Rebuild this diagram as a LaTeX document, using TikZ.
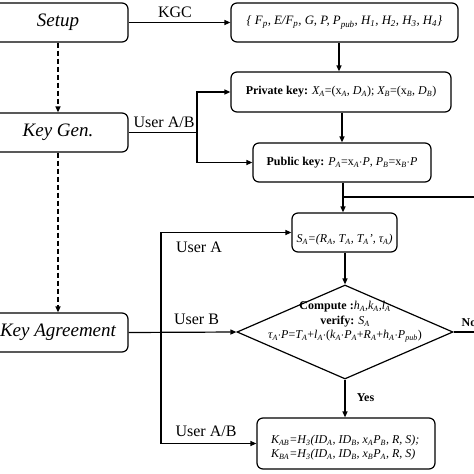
\documentclass[tikz,border=0pt]{standalone}
\usepackage{fontspec}
\setmainfont{Liberation Serif}
\usetikzlibrary{arrows.meta,shapes.geometric}
\newcommand{\sbs}[1]{\textsubscript{#1}}
\begin{document}
\begin{tikzpicture}[x=1pt,y=-1pt,
  line width=1.2pt,
  >={Triangle[length=6pt,width=5pt]},
  phase/.style={draw,rounded corners=6pt,minimum width=140pt,minimum height=39pt,inner sep=0pt,font=\fontsize{19}{21}\selectfont\itshape},
  box/.style={draw,rounded corners=6pt,inner sep=0pt,font=\fontsize{12}{14}\selectfont},
  lab/.style={font=\fontsize{16}{18}\selectfont,inner sep=0pt},
  blab/.style={font=\fontsize{12}{14}\selectfont\bfseries,inner sep=0pt},
  dash line/.style={dash pattern=on 5pt off 3pt}]
\useasboundingbox (0,0) rectangle (474,474);
% phases
\node[phase] (setup) at (58,22.5) {Setup};
\node[phase] (keygen) at (58,132.5) {Key Gen.};
\node[phase] (keyagr) at (58,332.5) {Key Agreement};
% right boxes
\node[box,minimum width=227pt,minimum height=39pt,font=\fontsize{12.8}{14}\selectfont] (params) at (344.5,22.5)
  {\itshape\{ F\sbs{p}, E/F\sbs{p}, G, P, P\sbs{pub}, H\sbs{1}, H\sbs{2}, H\sbs{3}, H\sbs{4}\}};
\node[box,minimum width=220pt,minimum height=40pt] (priv) at (341,92)
  {\textbf{Private key:} \textit{X\sbs{A}}=(x\sbs{\textit{A}}, \textit{D\sbs{A}}); \textit{X\sbs{B}}=(x\sbs{\textit{B}}, \textit{D\sbs{B}})};
\node[box,minimum width=178pt,minimum height=39pt] (pub) at (342,162.5)
  {\textbf{Public key:} \textit{P\sbs{A}}=x\sbs{\textit{A}}$\cdot$\textit{P}, \textit{P\sbs{B}}=x\sbs{\textit{B}}$\cdot$\textit{P}};
\node[box,minimum width=105pt,minimum height=39pt] (sa) at (344.5,232.5)
  {\raisebox{-7pt}[\height][\depth]{\itshape S\sbs{A}=(R\sbs{A}, T\sbs{A}, T\sbs{A}', τ\sbs{A})}};
\node[draw,diamond,aspect=2.3,minimum width=216pt,minimum height=94pt,inner sep=0pt] (dia) at (345,332) {};
\node[font=\fontsize{12}{14.5}\selectfont,align=center,inner sep=0pt] (diatext) at (345,322)
  {\textbf{Compute :}\textit{h\sbs{A},k\sbs{A},l\sbs{A}}\\
   \textbf{verify:} \textit{S\sbs{A}}\\
   \textit{τ\sbs{A}}$\cdot$\textit{P}=\textit{T\sbs{A}}+\textit{l\sbs{A}}$\cdot$(\textit{k\sbs{A}}$\cdot$\textit{P\sbs{A}}+\textit{R\sbs{A}}+\textit{h\sbs{A}}$\cdot$\textit{P\sbs{pub}})};
\node[box,minimum width=178pt,minimum height=51pt] (kb) at (346,443.5)
  {\raisebox{-4pt}[\height][\depth]{\parbox{150pt}{\itshape K\sbs{AB}=H\sbs{3}(ID\sbs{A}, ID\sbs{B}, x\sbs{A}P\sbs{B}, R, S);\\
   K\sbs{BA}=H\sbs{3}(ID\sbs{A}, ID\sbs{B}, x\sbs{B}P\sbs{A}, R, S)}}};
% helper coordinates
\coordinate (j1) at (197,132.5);
\coordinate (bus) at (161,443.5);
\coordinate (fb) at (474,197);
% connectors
\draw[->] (setup.east) -- (params.west);
\draw[->,dash line] (setup.south) -- (keygen.north);
\draw[->,dash line] (keygen.south) -- (keyagr.north);
\draw (keygen.east) -- (j1);
\draw[->] (j1) |- (priv.west);
\draw[->] (j1) |- (pub.west);
\draw[->] (params.south -| 339,0) -- (priv.north -| 339,0);
\draw[->] (priv.south -| 342,0) -- (pub.north -| 342,0);
\draw[->] (pub.south -| 343,0) -- (sa.north -| 343,0);
\draw (fb) -- (fb -| 343,0);
\draw[->] (sa.south -| 345,0) -- (dia.north);
\draw[->] (keyagr.east) -- (dia.west);
\draw[->] (bus) |- (sa.west);
\draw[->] (bus) -- (kb.west);
\draw[->] (dia.south) -- (kb.north -| dia.south);
\draw (dia.east) -- (dia.east -| fb);
% labels
\node[lab] (kgc) at (175,12) {KGC};
\node[lab] (uab1) at (164,122) {User A/B};
\node[lab] (ua) at (199,247.5) {User A};
\node[lab] (ub) at (196.5,319) {User B};
\node[lab] (uab2) at (206,431) {User A/B};
\node[blab] (yes) at (365.5,397.5) {Yes};
\node[blab,anchor=west] (no) at (461,323) {No};
\end{tikzpicture}
\end{document}
